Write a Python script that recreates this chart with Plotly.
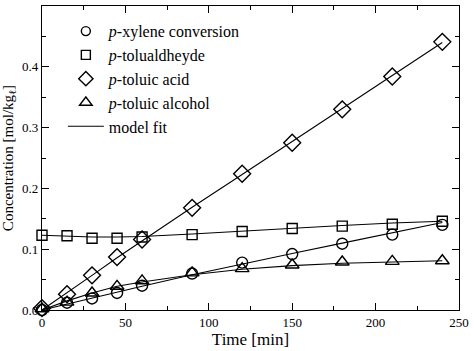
import plotly.graph_objects as go

time = [0, 15, 30, 45, 60, 90, 120, 150, 180, 210, 240]

xylene = [0.000, 0.012, 0.019, 0.028, 0.040, 0.060, 0.078, 0.092, 0.109, 0.124, 0.140]
aldehyde = [0.123, 0.122, 0.118, 0.118, 0.120, 0.124, 0.129, 0.134, 0.138, 0.141, 0.146]
acid = [0.003, 0.026, 0.057, 0.087, 0.116, 0.168, 0.224, 0.275, 0.330, 0.384, 0.441]
alcohol = [0.002, 0.013, 0.028, 0.039, 0.048, 0.061, 0.068, 0.074, 0.079, 0.080, 0.081]

fit_time = [0, 15, 30, 45, 60, 90, 120, 150, 180, 210, 240]
fit_xylene = [0.000, 0.010, 0.019, 0.029, 0.039, 0.058, 0.076, 0.093, 0.110, 0.127, 0.144]
fit_aldehyde = [0.123, 0.121, 0.120, 0.120, 0.121, 0.125, 0.130, 0.135, 0.139, 0.143, 0.146]
fit_acid = [0.000, 0.028, 0.057, 0.086, 0.114, 0.169, 0.223, 0.277, 0.331, 0.385, 0.440]
fit_alcohol = [0.000, 0.015, 0.028, 0.039, 0.046, 0.058, 0.067, 0.073, 0.077, 0.079, 0.081]

names = ["<i>p</i>-xylene conversion", "<i>p</i>-tolualdheyde",
         "<i>p</i>-toluic acid", "<i>p</i>-toluic alcohol"]

FONT = "Liberation Serif"
black = "black"

fig = go.Figure()

# model fit lines
for fy in [fit_xylene, fit_aldehyde, fit_acid, fit_alcohol]:
    fig.add_trace(go.Scatter(x=fit_time, y=fy, mode="lines",
                             line=dict(color=black, width=1.1),
                             showlegend=False, hoverinfo="skip"))

symbols = ["circle-open", "square-open", "diamond-open", "triangle-up-open"]
sizes = [11, 10, 13, 12]
leg_sizes = [9, 9, 11, 11]
for name, ys, sym, sz in zip(names, [xylene, aldehyde, acid, alcohol], symbols, sizes):
    fig.add_trace(go.Scatter(x=time, y=ys, mode="markers", name=name,
                             marker=dict(symbol=sym, size=sz, color=black,
                                         line=dict(color=black, width=1.4)),
                             cliponaxis=False, showlegend=False))

# legend entries
for name, sym, sz in zip(names, symbols, leg_sizes):
    fig.add_trace(go.Scatter(x=[None], y=[None], mode="markers", name=name,
                             marker=dict(symbol=sym, size=sz, color=black,
                                         line=dict(color=black, width=1.4))))
fig.add_trace(go.Scatter(x=[None], y=[None], mode="lines", name="model fit",
                         line=dict(color=black, width=1.1)))

axis_common = dict(showline=True, linecolor=black, linewidth=1.2, mirror="ticks",
                   ticks="inside", ticklen=7, tickwidth=1, tickcolor=black,
                   showgrid=False, zeroline=False,
                   tickfont=dict(family=FONT, size=13, color=black))

fig.update_xaxes(range=[0, 250], dtick=50, tick0=0,
                 minor=dict(ticks="inside", dtick=25, ticklen=4, tickcolor=black),
                 title=dict(text="Time [min]", font=dict(family=FONT, size=17, color=black),
                            standoff=2),
                 **axis_common)
fig.update_yaxes(range=[0, 0.5], dtick=0.1, tick0=0, tickformat=".1f",
                 minor=dict(ticks="inside", dtick=0.05, ticklen=4, tickcolor=black),
                 title=dict(text="Concentration [mol/kg<sub>ℓ</sub>]",
                            font=dict(family=FONT, size=15, color=black), standoff=4),
                 **axis_common)

fig.update_layout(
    width=474, height=351,
    margin=dict(l=42, r=11, t=5, b=41),
    paper_bgcolor="white", plot_bgcolor="white",
    font=dict(family=FONT, color=black),
    legend=dict(x=0.05, y=0.973, xanchor="left", yanchor="top",
                bgcolor="rgba(0,0,0,0)", borderwidth=0,
                font=dict(family=FONT, size=16, color=black),
                tracegroupgap=0, itemwidth=36),
    showlegend=True,
)

fig.write_html("out.html")
